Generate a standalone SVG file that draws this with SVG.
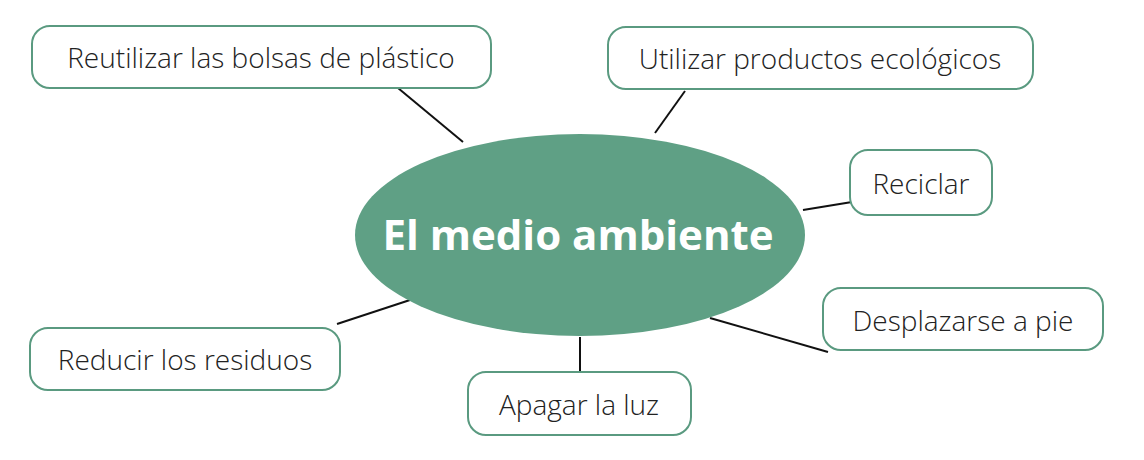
<svg xmlns="http://www.w3.org/2000/svg" width="1144" height="460" viewBox="0 0 1144 460">
<style>
.b{fill:#fff;stroke:#5a9a80;stroke-width:2}
.t{font-family:"Open Sans","Liberation Sans",sans-serif;font-size:28px;fill:#222;text-anchor:middle;dominant-baseline:central;font-weight:300}
.c line{stroke:#111;stroke-width:2}
</style>
<rect width="1144" height="460" fill="#fff"/>
<g class="c">
<line x1="398" y1="88" x2="463" y2="142"/>
<line x1="685" y1="91" x2="655" y2="133"/>
<line x1="803" y1="210" x2="852" y2="202"/>
<line x1="710" y1="318" x2="828" y2="352"/>
<line x1="580" y1="337" x2="580" y2="372"/>
<line x1="337" y1="324" x2="410" y2="300"/>
</g>
<g id="center"><ellipse cx="580" cy="235" rx="225" ry="101" fill="#5fa085"/>
<text x="578" y="233" font-family="'Open Sans','Liberation Sans',sans-serif" font-size="42" font-weight="bold" fill="#fff" text-anchor="middle" dominant-baseline="central">El medio ambiente</text></g>
<g id="n1"><rect class="b" x="32" y="26" width="459" height="62" rx="18"/><text class="t" x="261" y="57">Reutilizar las bolsas de plástico</text></g>
<g id="n2"><rect class="b" x="608" y="27" width="425" height="62" rx="18"/><text class="t" x="820" y="58">Utilizar productos ecológicos</text></g>
<g id="n3"><rect class="b" x="850" y="150" width="142" height="65" rx="18"/><text class="t" x="921" y="183">Reciclar</text></g>
<g id="n4"><rect class="b" x="823" y="288" width="280" height="62" rx="18"/><text class="t" x="963" y="320">Desplazarse a pie</text></g>
<g id="n5"><rect class="b" x="468" y="372" width="223" height="63" rx="18"/><text class="t" x="579" y="404">Apagar la luz</text></g>
<g id="n6"><rect class="b" x="30" y="328" width="310" height="62" rx="18"/><text class="t" x="185" y="359">Reducir los residuos</text></g>
</svg>
